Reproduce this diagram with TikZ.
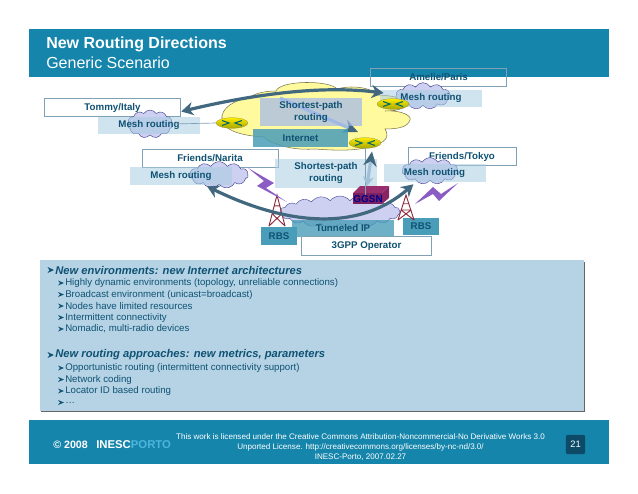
\documentclass[tikz,border=0pt]{standalone}
\usepackage{fontspec}
\setmainfont{Liberation Sans}
\usetikzlibrary{shapes.symbols,shapes.geometric,arrows.meta,calc}
\definecolor{barblue}{HTML}{1585AB}
\definecolor{panelblue}{HTML}{B5D3E5}
\definecolor{labeltext}{HTML}{0F5273}
\definecolor{framegray}{HTML}{7FA0B5}
\definecolor{meshblue}{HTML}{A8CDE2}
\definecolor{tealfill}{HTML}{4A9DB8}
\definecolor{cloudlav}{HTML}{CDD0F0}
\definecolor{arrowdark}{HTML}{41687F}
\definecolor{arrowlight}{HTML}{9FC0D6}
\definecolor{zigcolor}{HTML}{8A5CC4}
\definecolor{towercolor}{HTML}{8A2B3C}
\definecolor{portoblue}{HTML}{4DB5DC}
\tikzset{
  boxfont/.style={font=\bfseries\fontsize{7.3}{9}\selectfont},
  namebox/.style={draw=framegray, line width=0.7pt, minimum height=14pt, inner sep=0pt, text=labeltext, boxfont},
  meshlabel/.style={fill=meshblue, fill opacity=0.55, text opacity=1, minimum width=76.5pt, minimum height=13pt, inner sep=0pt, text=labeltext, boxfont},
  tealbox/.style={fill=tealfill, minimum height=13pt, inner sep=0pt, text=labeltext, boxfont},
  meshcloud/.style={cloud, cloud puffs=11, cloud puff arc=120, draw=black!45!blue!60!gray, line width=0.3pt, fill=cloudlav, inner sep=0pt},
  routernode/.style={ellipse, draw=yellow!50!black, line width=0.2pt, top color=yellow!85!orange, bottom color=yellow!65!black, minimum width=24pt, minimum height=8pt, inner sep=0pt},
  bigarrow/.style={line width=2.4pt, draw=arrowdark, {Stealth[length=9pt,width=10pt]}-{Stealth[length=9pt,width=10pt]}},
  lightarrow/.style={line width=2.4pt, draw=arrowlight},
  zigzag/.style={fill=zigcolor},
  towerline/.style={draw=towercolor, line width=0.7pt},
  lead/.style={font=\bfseries\itshape\fontsize{8.4}{10}\selectfont, text=labeltext, anchor=west, inner sep=0pt},
  sublead/.style={font=\fontsize{7.25}{9}\selectfont, text=labeltext, anchor=west, inner sep=0pt},
}
\begin{document}
\begin{tikzpicture}[x=0.75pt, y=-0.75pt]
  \useasboundingbox (0,0) rectangle (638,493);

  % Header and footer bars
  \fill[barblue] (29,29) rectangle (609,77);
  \fill[barblue] (29,420) rectangle (609,464);
  \node[anchor=west, inner sep=0pt, text=white, font=\bfseries\fontsize{12}{14}\selectfont] (title) at (46,44) {New Routing Directions};
  \node[anchor=west, inner sep=0pt, text=white, font=\fontsize{12}{14}\selectfont] (subtitle) at (46,63) {Generic Scenario};

  % Yellow internet cloud
  \draw[fill=yellow!38!white, draw=black!60!yellow, line width=0.4pt]
    (250,97) .. controls (256,93) and (266,91) .. (276,91)
    .. controls (280,80) and (330,80) .. (337,89)
    .. controls (350,85) and (372,87) .. (376,95)
    .. controls (392,95) and (412,100) .. (408,104)
    .. controls (405,109) and (395,111) .. (385,111)
    .. controls (402,110) and (412,116) .. (410,120)
    .. controls (408,127) and (398,129) .. (385,129)
    .. controls (390,137) and (385,143) .. (372,146)
    .. controls (355,152) and (330,150) .. (315,149)
    .. controls (300,150) and (288,148) .. (280,145)
    .. controls (270,142) and (266,140) .. (265,137)
    .. controls (245,136) and (225,132) .. (222,120)
    .. controls (220,108) and (235,100) .. (250,97) -- cycle;

  % Light arrow across the cloud
  \coordinate (lightstart) at (280,98);
  \coordinate (lightend) at (358,132);
  \draw[lightarrow, -{Stealth[length=11pt,width=10pt,color=arrowdark]}] (lightstart) -- (lightend);

  % Name boxes
  \node[namebox, minimum width=102.5pt] (tommy) at (112.5,107.5) {Tommy/Italy};
  \node[namebox, minimum width=102pt] (narita) at (210,158.5) {Friends/Narita};
  \node[namebox, minimum width=102.5pt] (amelie) at (438.5,77.5) {Amelie/Paris};
  \node[namebox, minimum width=81pt] (tokyo) at (462,156.5) {Friends/Tokyo};

  % Mesh clouds
  \node[meshcloud, minimum width=34pt, minimum height=21pt] (cloudtommy) at (150,124) {};
  \node[meshcloud, minimum width=44pt, minimum height=20pt] (cloudnarita) at (219,175) {};
  \node[meshcloud, minimum width=41pt, minimum height=20pt] (cloudamelie) at (423,96) {};
  \node[meshcloud, minimum width=42pt, minimum height=20pt] (cloudtokyo) at (430,171) {};
  \node[meshcloud, cloud puffs=19, cloud puff arc=100, minimum width=90pt, minimum height=24pt, draw=black!30!blue!50!gray] (cloudtunnel) at (340,212) {};

  % Labels over the clouds
  \node[meshlabel] (meshtommy) at (149,125.5) {Mesh routing};
  \node[meshlabel] (meshnarita) at (181,176) {Mesh routing};
  \node[meshlabel] (meshamelie) at (431,98.5) {Mesh routing};
  \node[meshlabel] (meshtokyo) at (434.5,173) {Mesh routing};
  \node[meshlabel, fill=blue!20!meshblue!80!white, fill opacity=0.7, minimum height=21pt, align=center] (shortone) at (311,112) {Shortest-path\\routing};
  \node[meshlabel, minimum height=21.5pt, align=center] (shorttwo) at (326,173.5) {Shortest-path\\routing};
  \node[tealbox, fill opacity=0.85, text opacity=1, minimum width=71pt, minimum height=13.5pt] (internet) at (300.5,138) {Internet};
  \node[tealbox, fill opacity=0.8, text opacity=1, minimum width=76.5pt] (tunnel) at (343,228.5) {Tunneled IP};
  \node[namebox, fill=white, minimum width=98pt] (operator) at (366.5,246) {3GPP Operator};
  \node[tealbox, minimum width=27pt] (rbsleft) at (279,236) {RBS};
  \node[tealbox, minimum width=27pt] (rbsright) at (421,226.5) {RBS};

  % Routers
  \node[routernode] (routerleft) at (232,123) {};
  \node[routernode] (routertop) at (393,104) {};
  \node[routernode] (routermid) at (365,143) {};
  \foreach \r in {routerleft,routertop,routermid} {
    \draw[teal!80!black, line width=0.8pt] ($(\r)+(-10,-2.5)$) -- ($(\r)+(-3,0)$) -- ($(\r)+(-10,2.5)$);
    \draw[teal!80!black, line width=0.8pt] ($(\r)+(10,-2.5)$) -- ($(\r)+(3,0)$) -- ($(\r)+(10,2.5)$);
  }

  % GGSN box
  \definecolor{ggsnfront}{HTML}{7A1F5F}
  \definecolor{ggsntop}{HTML}{9A2F6F}
  \definecolor{ggsnside}{HTML}{8A2565}
  \fill[ggsnfront] (353,193) -- (382,193) -- (382,204) -- (353,204) -- cycle;
  \fill[ggsntop] (353,193) -- (360,186) -- (389,186) -- (382,193) -- cycle;
  \fill[ggsnside] (382,193) -- (389,186) -- (389,198) -- (382,204) -- cycle;
  \node[text=blue!55!black, font=\bfseries\fontsize{7.5}{9}\selectfont, inner sep=0pt] (ggsn) at (368,199) {GGSN};

  % Towers
  \foreach \n/\tx/\ta/\tb in {towerleft/277/195/226,towerright/406/195/220} {
    \coordinate (\n) at (\tx,\ta);
    \draw[towerline] ($(\n)+(-8,\tb-\ta)$) -- (\n) -- ($(\n)+(8,\tb-\ta)$);
    \draw[towerline] ($(\n)+(-5,{(\tb-\ta)*0.6})$) -- ($(\n)+(5,{(\tb-\ta)*0.6})$) ($(\n)+(-3,{(\tb-\ta)*0.35})$) -- ($(\n)+(3,{(\tb-\ta)*0.35})$) ($(\n)+(-8,\tb-\ta)$) -- ($(\n)+(5,{(\tb-\ta)*0.6})$) ($(\n)+(8,\tb-\ta)$) -- ($(\n)+(-5,{(\tb-\ta)*0.6})$);
  }

  % Lightning
  \fill[zigzag] (248,168) -- (274,183) -- (266,188) -- (287,202) -- (257,186) -- (264,181) -- cycle;
  \fill[zigzag] (415,204) -- (433,187) -- (441,194) -- (458,183) -- (439,201) -- (433,194) -- cycle;

  % Thin links
  \draw[framegray, line width=0.5pt] (cloudtommy.east) -- (routerleft.west);
  \draw[framegray, line width=0.5pt] (routermid.south) -- (ggsn.north -| routermid);

  % Curved arrows
  \draw[bigarrow] (tommy.east) ++(0,4) .. controls (250,95) and (320,85) .. ($(cloudamelie.west)+(-12,-3)$);
  \draw[bigarrow] (cloudnarita.south) ++(-12,2) .. controls (280,222) and (355,235) .. ($(cloudtokyo.south west)+(3,4)$);
  \draw[lightarrow, {Stealth[length=7pt,width=8pt]}-{Stealth[length=11pt,width=10pt,color=arrowdark]}] ($(ggsn.north)+(-1,-9)$) -- ($(routermid.south)+(7,3)$);

  % Text panel
  \fill[gray!80!black] (41,262) rectangle (585,412);
  \fill[panelblue] (40,260) rectangle (584,411);
  \node[lead] (envlead) at (55,270) {New environments: new Internet architectures};
  \node[sublead] (dyn) at (65,283) {Highly dynamic environments (topology, unreliable connections)};
  \node[sublead] (bcast) at (65,294.5) {Broadcast environment (unicast=broadcast)};
  \node[sublead] (limited) at (65,306) {Nodes have limited resources};
  \node[sublead] (inter) at (65,317.5) {Intermittent connectivity};
  \node[sublead] (nomad) at (65,329) {Nomadic, multi-radio devices};
  \node[lead] (routlead) at (55,355) {New routing approaches: new metrics, parameters};
  \node[sublead] (oppo) at (65,368) {Opportunistic routing (intermittent connectivity support)};
  \node[sublead] (coding) at (65,379.5) {Network coding};
  \node[sublead] (locator) at (65,391) {Locator ID based routing};
  \node[sublead] (dots) at (65,402.5) {…};
  % Bullets
  \foreach \b in {envlead,routlead} \fill[labeltext] ($(\b.west)+(-7.5,-3)$) -- ($(\b.west)+(-1,0)$) -- ($(\b.west)+(-7.5,3)$) -- ($(\b.west)+(-5.5,0)$) -- cycle;
  \foreach \b in {dyn,bcast,limited,inter,nomad,oppo,coding,locator,dots} \fill[labeltext] ($(\b.west)+(-7,-2.5)$) -- ($(\b.west)+(-1,0)$) -- ($(\b.west)+(-7,2.5)$) -- ($(\b.west)+(-5,0)$) -- cycle;

  % Footer
  \node[text=white, inner sep=0pt, font=\bfseries\fontsize{8}{10}\selectfont, anchor=west] (copyright) at (53,445) {© 2008};
  \node[text=white, inner sep=0pt, font=\bfseries\fontsize{8.5}{11}\selectfont, anchor=west] (inesc) at (96,445) {INESC\textcolor{portoblue}{PORTO}};
  \node[text=white, inner sep=0pt, font=\fontsize{6.05}{7.6}\selectfont, align=center] (licence) at (360.5,447) {This work is licensed under the Creative Commons Attribution-Noncommercial-No Derivative Works 3.0\\Unported License. http://creativecommons.org/licenses/by-nc-nd/3.0/\\INESC-Porto, 2007.02.27};
  \node[fill=labeltext!90!black, rounded corners=1.5pt, text=white, minimum width=14.5pt, minimum height=14.5pt, inner sep=0pt, font=\fontsize{7}{8}\selectfont] (pageno) at (575.5,444.5) {21};
\end{tikzpicture}
\end{document}
